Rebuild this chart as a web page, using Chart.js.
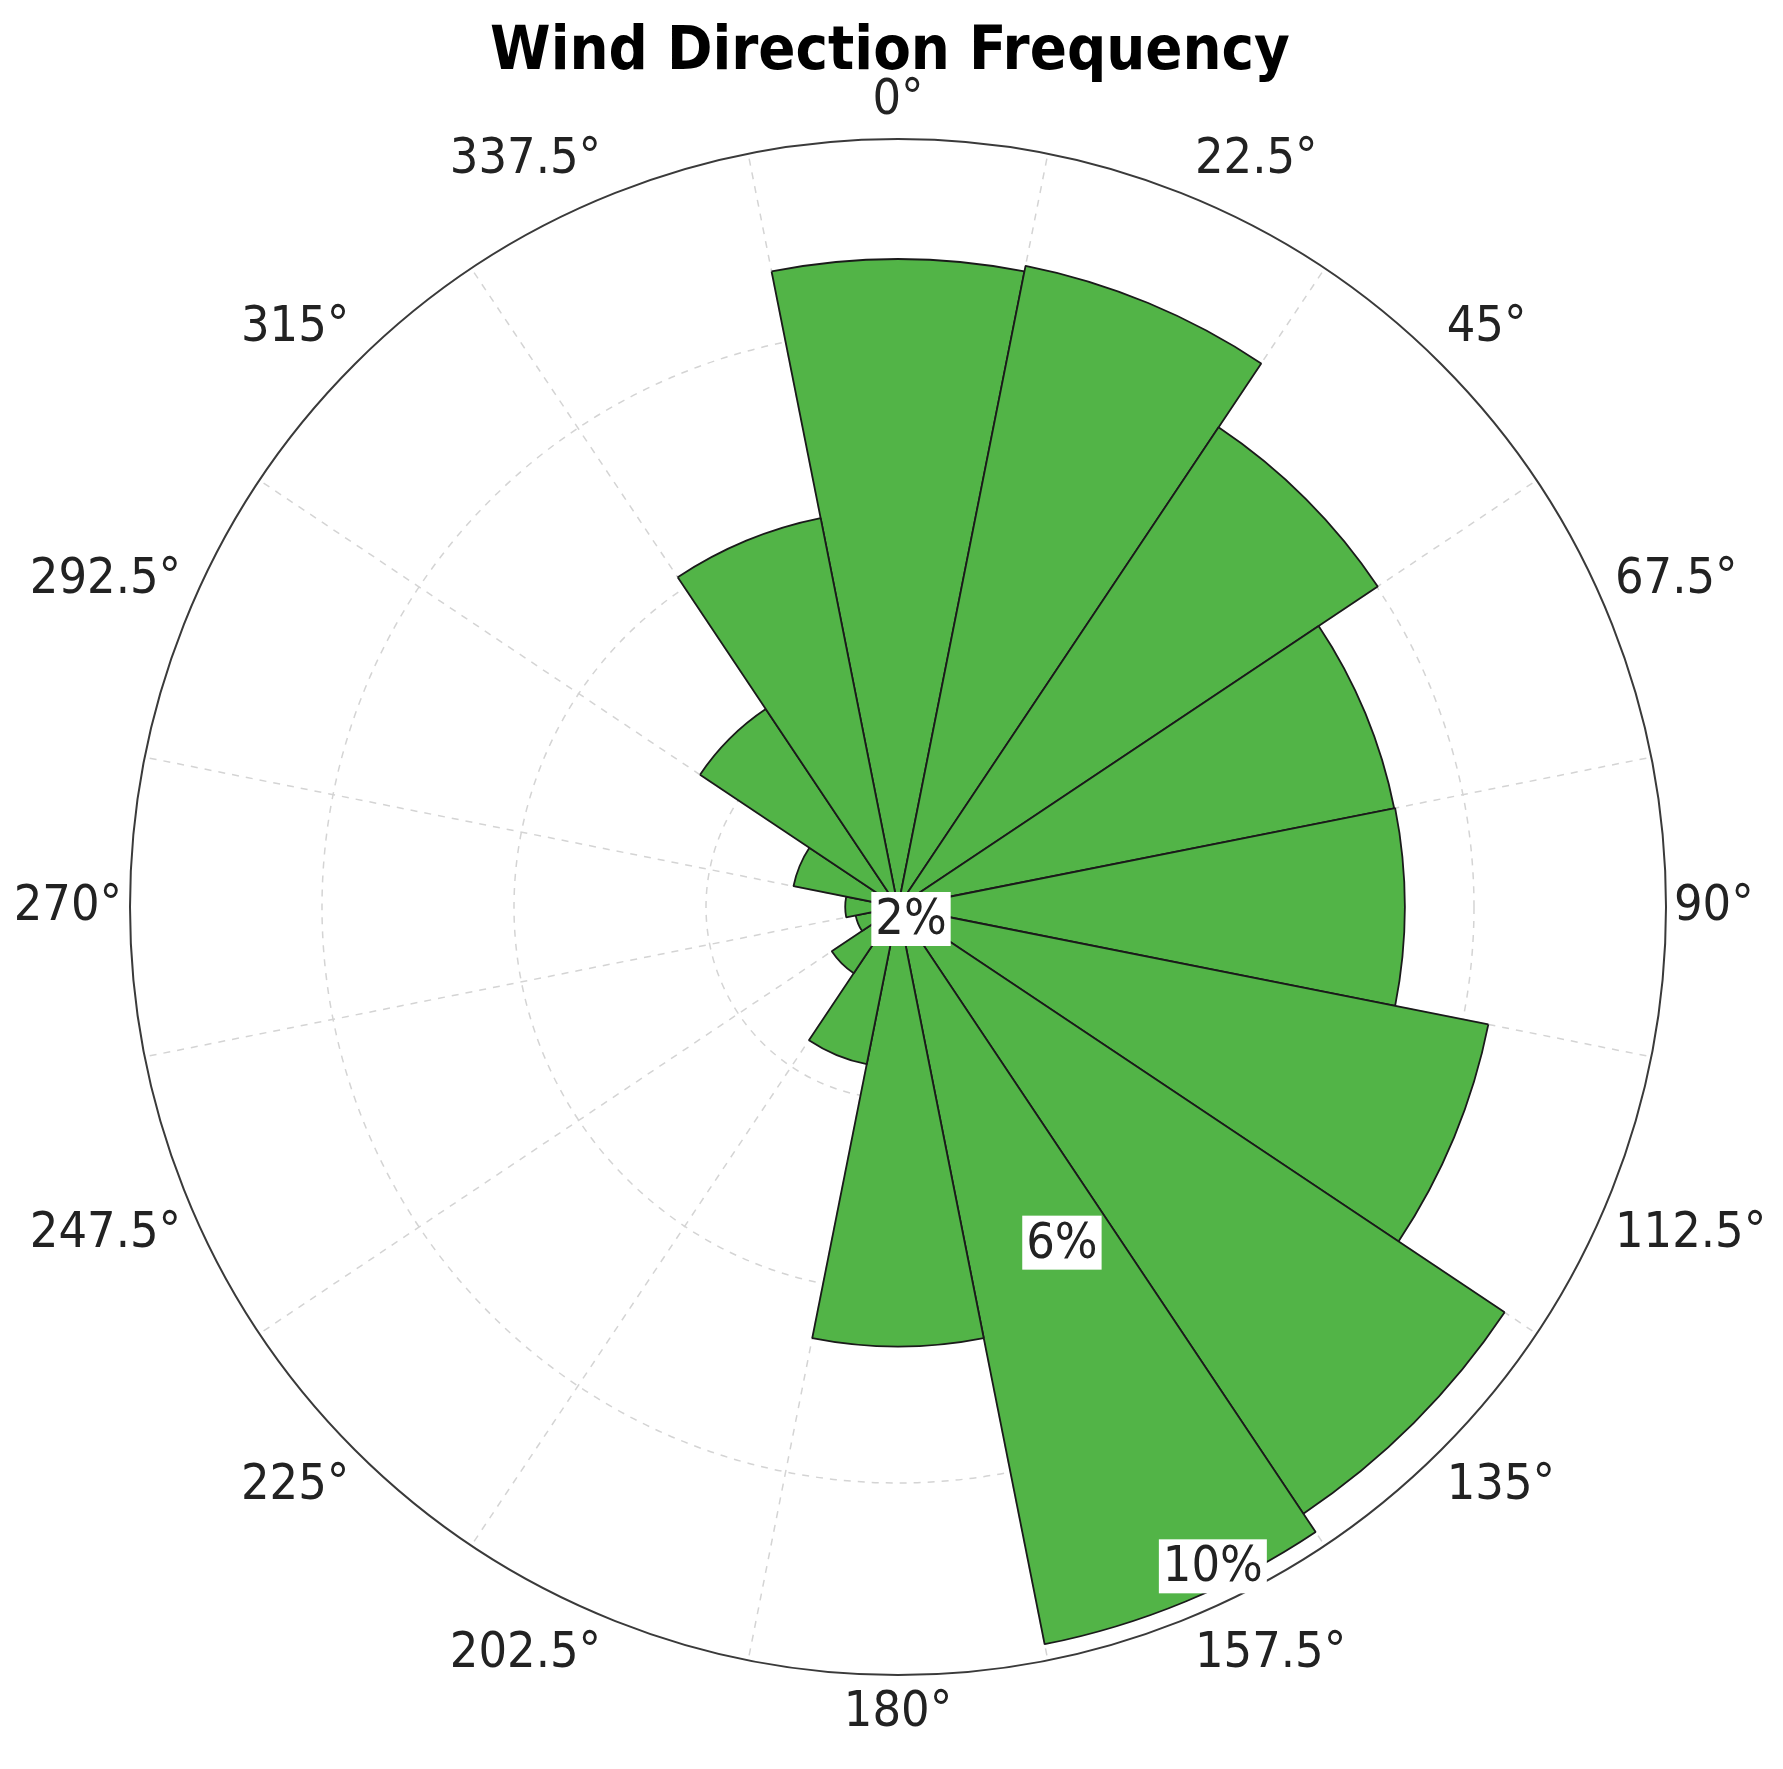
<!DOCTYPE html>
<html>
<head>
<meta charset="utf-8">
<title>Wind Direction Frequency</title>
<script src="https://cdn.jsdelivr.net/npm/chart.js@4.4.1/dist/chart.umd.min.js"></script>
<style>
  html, body { margin: 0; padding: 0; background: #fff; }
  #chartBox { width: 1783px; height: 1769px; position: relative; }
</style>
</head>
<body>
<div id="chartBox"><canvas id="windRose"></canvas></div>
<script>
var directions = ['0°', '22.5°', '45°', '67.5°', '90°', '112.5°', '135°', '157.5°',
                  '180°', '202.5°', '225°', '247.5°', '270°', '292.5°', '315°', '337.5°'];
var frequency = [8.75, 8.81, 8.01, 7.27, 7.28, 8.27, 9.60, 9.83,
                 6.58, 3.67, 2.83, 2.45, 2.55, 3.11, 4.48, 6.13];
var radialTicks = [2, 6, 10];

var labelFont = "'DejaVu Sans Condensed', 'DejaVu Sans', sans-serif";

// tick labels of the radial axis, boxed in white along a slanted line
var radialTickLabels = {
    id: 'radialTickLabels',
    afterDatasetsDraw: function (chart) {
        var scale = chart.scales.r;
        var ctx = chart.ctx;
        var a = 155 * Math.PI / 180;
        ctx.save();
        ctx.font = '50px ' + labelFont;
        ctx.textAlign = 'center';
        ctx.textBaseline = 'middle';
        radialTicks.forEach(function (v) {
            var d = scale.getDistanceFromCenterForValue(v) * 0.93;
            var x = scale.xCenter + 13 + d * Math.sin(a);
            var y = scale.yCenter + 12 - d * Math.cos(a);
            var text = v + '%';
            var w = ctx.measureText(text).width + 8;
            ctx.fillStyle = '#fff';
            ctx.fillRect(x - w / 2, y - 27, w, 54);
            ctx.fillStyle = '#222';
            ctx.fillText(text, x, y + 2);
        });
        ctx.restore();
    }
};

var ctx = document.getElementById('windRose').getContext('2d');
var windChart = new Chart(ctx, {
    type: 'polarArea',
    data: {
        labels: directions,
        datasets: [{
            label: 'Frequency',
            data: frequency,
            backgroundColor: '#52b447',
            borderColor: '#1a1a1a',
            borderWidth: 1.8
        }]
    },
    options: {
        responsive: true,
        maintainAspectRatio: false,
        animation: false,
        layout: { padding: { left: 5, right: 8, top: 0, bottom: 26 } },
        plugins: {
            legend: { display: false },
            tooltip: { enabled: false },
            title: {
                display: true,
                text: 'Wind Direction Frequency',
                color: '#000',
                font: { family: labelFont, size: 61, weight: 'bold', lineHeight: 0.5 },
                padding: { top: 38, bottom: 2.5 }
            }
        },
        scales: {
            r: {
                min: 2,
                max: 10,
                startAngle: -11.25,
                ticks: { stepSize: 2, display: false },
                grid: {
                    circular: true,
                    color: function (c) { return c.tick && c.tick.value === 10 ? '#3a3a3a' : '#d4d4d4'; },
                    lineWidth: function (c) { return c.tick && c.tick.value === 10 ? 2 : 1.5; }
                },
                border: {
                    dash: function (c) { return c.tick && c.tick.value === 10 ? [] : [7, 7]; }
                },
                angleLines: { display: true, color: '#d4d4d4', lineWidth: 1.5, borderDash: [7, 7] },
                pointLabels: {
                    display: true,
                    centerPointLabels: true,
                    padding: 8,
                    color: '#222',
                    font: { family: labelFont, size: 50 }
                }
            }
        }
    },
    plugins: [radialTickLabels]
});
</script>
</body>
</html>
